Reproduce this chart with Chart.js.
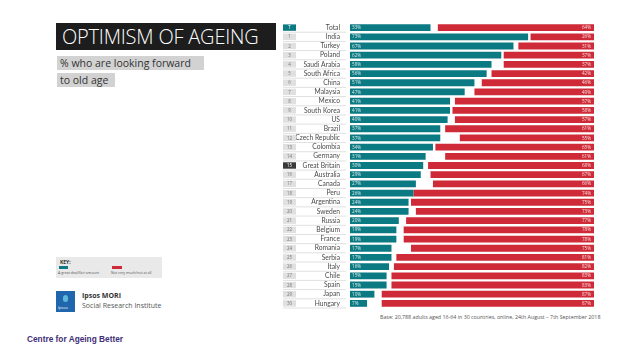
<!DOCTYPE html>
<html>
<head>
<meta charset="utf-8">
<script src="https://cdn.jsdelivr.net/npm/chart.js@4/dist/chart.umd.min.js"></script>
<style>
  body { margin: 0; width: 638px; height: 359px; background: #fff; position: relative; overflow: hidden; font-family: "Open Sans", sans-serif; }
  .abs { position: absolute; }
  #title { left: 56px; top: 23px; width: 220px; height: 27px; background: #1d1d1d; color: #fff; font-size: 20px; font-weight: 300; line-height: 27px; padding-left: 6px; box-sizing: border-box; letter-spacing: -0.2px; }
  .sub { left: 57px; height: 14px; background: #d2d2d2; color: #333; font-size: 10.5px; line-height: 14px; padding-left: 3px; box-sizing: border-box; }
  #key { left: 56px; top: 257px; width: 106px; height: 21px; background: #e9e9e9; }
  #chartBox { left: 280px; top: 20px; width: 320px; height: 292px; }
  #base { left: 380px; top: 313px; font-size: 5.3px; color: #555; white-space: nowrap; }
  #cab { left: 27px; top: 334px; font-family: "Liberation Sans", Arial, sans-serif; font-weight: bold; font-size: 8.3px; color: #3f2f78; }
</style>
</head>
<body>
<div id="title" class="abs">OPTIMISM OF AGEING</div>
<div class="abs sub" style="top:56px;width:147px;">% who are looking forward</div>
<div class="abs sub" style="top:73px;width:58px;">to old age</div>

<div id="key" class="abs">
  <div class="abs" style="left:4px;top:2px;font-size:5px;font-weight:bold;color:#333;">KEY:</div>
  <div class="abs" style="left:3px;top:9px;width:9px;height:2.5px;background:#0b7a83;"></div>
  <div class="abs" style="left:2px;top:13px;font-size:3.6px;color:#555;white-space:nowrap;">A great deal/fair amount</div>
  <div class="abs" style="left:56px;top:9px;width:10px;height:2.5px;background:#cf2a37;"></div>
  <div class="abs" style="left:55px;top:13px;font-size:3.6px;color:#555;white-space:nowrap;">Not very much/not at all</div>
</div>

<div class="abs" style="left:56px;top:291px;width:19px;height:21px;background:#1f66ad;">
  <div class="abs" style="left:7px;top:4px;width:5px;height:7px;border-radius:3px;background:#5fb7d9;"></div>
  <div class="abs" style="left:2px;top:14px;font-size:4px;color:#fff;">Ipsos</div>
</div>
<div class="abs" style="left:82px;top:291px;font-size:7px;font-weight:bold;color:#333;">Ipsos MORI</div>
<div class="abs" style="left:82px;top:301px;font-size:7px;color:#555;">Social Research Institute</div>

<div id="cab" class="abs">Centre for Ageing Better</div>
<div id="base" class="abs">Base: 20,788 adults aged 16-64 in 30 countries, online, 24th August – 7th September 2018</div>

<div id="chartBox" class="abs"><canvas id="chart"></canvas></div>

<script>
// survey results, % per country
const countries = ["Total", "India", "Turkey", "Poland", "Saudi Arabia", "South Africa", "China", "Malaysia",
    "Mexico", "South Korea", "US", "Brazil", "Czech Republic", "Colombia", "Germany", "Great Britain",
    "Australia", "Canada", "Peru", "Argentina", "Sweden", "Russia", "Belgium", "France", "Romania",
    "Serbia", "Italy", "Chile", "Spain", "Japan", "Hungary"];
const ranks = ["T", "1", "2", "3", "4", "5", "6", "7", "8", "9", "10", "11", "12", "13", "14", "15",
    "16", "17", "18", "19", "20", "21", "22", "23", "24", "25", "26", "27", "28", "29", "30"];
const greatDeal = [33, 73, 67, 62, 58, 56, 51, 47, 41, 41, 40, 37, 37, 34, 31, 30,
    29, 27, 26, 24, 24, 20, 19, 19, 17, 17, 16, 15, 15, 10, 7];
const notVery = [64, 26, 31, 37, 37, 42, 46, 49, 57, 58, 57, 61, 55, 65, 61, 68,
    67, 66, 74, 75, 73, 77, 78, 78, 75, 81, 82, 83, 83, 87, 87];

const teal = '#0b7a83';
const red = '#cf2a37';

// rank badges + row separators in the label column, % values inside the bars
const rowDecor = {
    id: 'rowDecor',
    afterDatasetsDraw(chart) {
        const ctx = chart.ctx;
        const y = chart.scales.y;
        const step = y.getPixelForValue(1) - y.getPixelForValue(0);
        ctx.save();
        for (let i = 0; i < countries.length; i++) {
            let cy = y.getPixelForValue(i);
            // separator line
            ctx.strokeStyle = '#d8d8d8';
            ctx.lineWidth = 0.8;
            ctx.beginPath();
            ctx.moveTo(3, cy + step / 2);
            ctx.lineTo(66, cy + step / 2);
            ctx.stroke();
            // badge
            let fill = '#e0e0e0', txt = '#777';
            if (i == 0) { fill = teal; txt = '#fff'; }
            if (countries[i] == 'Great Britain') { fill = '#3a3a3a'; txt = '#fff'; }
            ctx.fillStyle = fill;
            ctx.fillRect(3, cy - 3.2, 13, 6.4);
            ctx.fillStyle = txt;
            ctx.font = '4.5px "Open Sans"';
            ctx.textAlign = 'center';
            ctx.textBaseline = 'middle';
            ctx.fillText(ranks[i], 9.5, cy + 0.3);
        }
        // value labels
        ctx.font = '4.6px "Open Sans"';
        ctx.fillStyle = 'rgba(255,255,255,0.85)';
        chart.getDatasetMeta(0).data.forEach((bar, i) => {
            ctx.textAlign = 'left';
            ctx.fillText(greatDeal[i] + '%', bar.base + 2, bar.y + 0.3);
        });
        chart.getDatasetMeta(1).data.forEach((bar, i) => {
            ctx.textAlign = 'right';
            ctx.fillText(notVery[i] + '%', bar.x - 3, bar.y + 0.3);
        });
        ctx.restore();
    }
};

new Chart(document.getElementById('chart'), {
    type: 'bar',
    data: {
        labels: countries,
        datasets: [{
            label: 'A great deal/fair amount',
            data: greatDeal,
            backgroundColor: teal,
            grouped: false,
            barPercentage: 0.74,
            categoryPercentage: 1
        }, {
            label: 'Not very much/not at all',
            data: notVery.map(v => [100 - v, 100]),
            backgroundColor: red,
            grouped: false,
            barPercentage: 0.74,
            categoryPercentage: 1
        }]
    },
    options: {
        indexAxis: 'y',
        responsive: true,
        maintainAspectRatio: false,
        animation: false,
        layout: { padding: { top: 3, bottom: 4, right: 6, left: 0 } },
        scales: {
            x: { display: false, min: 0, max: 100 },
            y: {
                grid: { display: false, drawTicks: false },
                border: { display: false },
                afterFit: function (scale) {
                    scale.width = 70;
                    scale.paddingTop = 0;
                    scale.paddingBottom = 0;
                },
                ticks: {
                    autoSkip: false,
                    padding: 10,
                    color: '#4a4a4a',
                    font: { family: 'Lato', size: 6.7 }
                }
            }
        },
        plugins: {
            legend: { display: false },
            tooltip: { enabled: false }
        }
    },
    plugins: [rowDecor]
});
</script>
</body>
</html>
